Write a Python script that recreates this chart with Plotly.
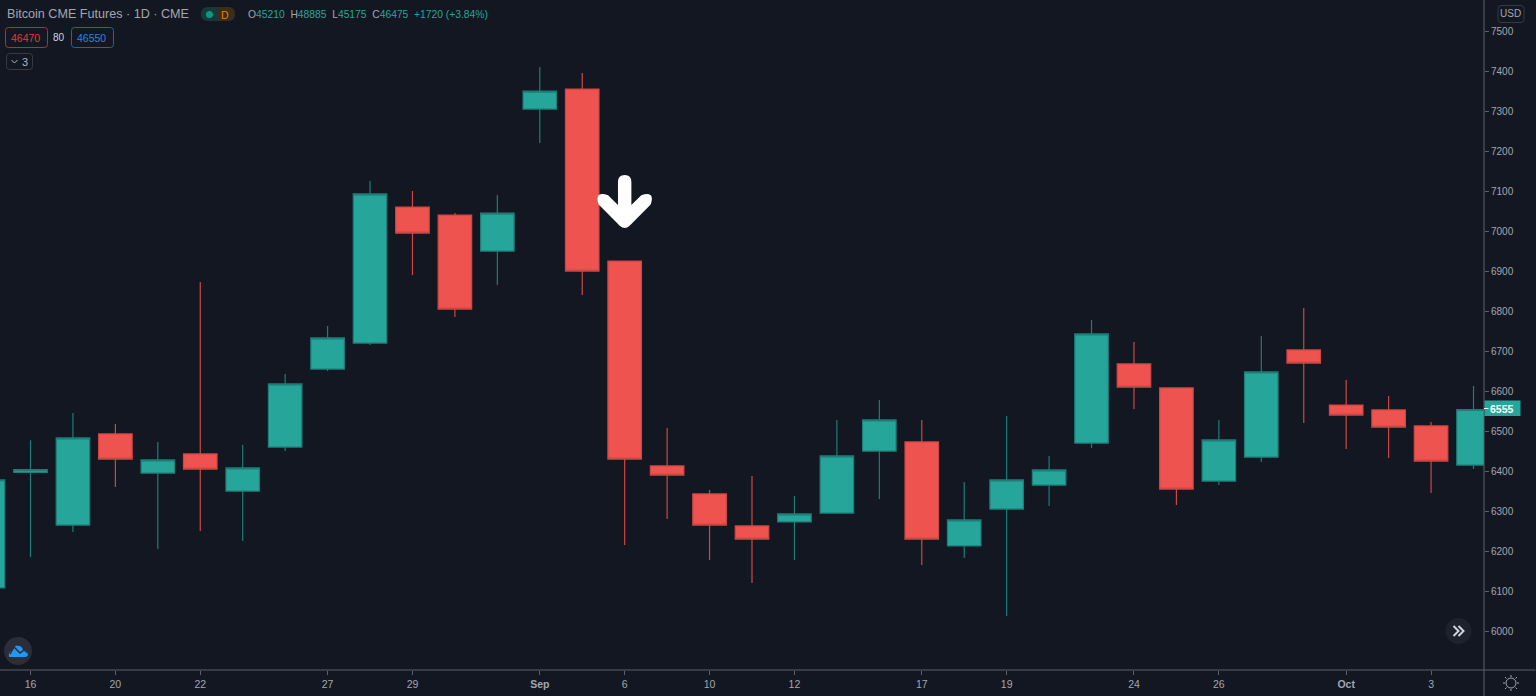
import plotly.graph_objects as go

# Daily candles
dates = ["08-15", "08-16", "08-17", "08-20", "08-21", "08-22", "08-23", "08-24", "08-27",
         "08-28", "08-29", "08-30", "08-31", "09-04", "09-05", "09-06", "09-07", "09-10",
         "09-11", "09-12", "09-13", "09-14", "09-17", "09-18", "09-19", "09-20", "09-21",
         "09-24", "09-25", "09-26", "09-27", "09-28", "10-01", "10-02", "10-03", "10-04"]
opens = [6109, 6398, 6266, 6494, 6396, 6444, 6351, 6461, 6656,
         6721, 7061, 7041, 6951, 7306, 7356, 6926, 6414, 6344,
         6264, 6274, 6296, 6451, 6474, 6214, 6306, 6366, 6471,
         6669, 6609, 6376, 6436, 6704, 6566, 6554, 6514, 6416]
highs = [6400, 6478, 6546, 6519, 6474, 6874, 6466, 6644, 6764,
         7126, 7101, 7046, 7091, 7411, 7396, 6926, 6509, 6354,
         6389, 6339, 6529, 6579, 6529, 6374, 6539, 6439, 6779,
         6724, 6609, 6529, 6739, 6809, 6629, 6589, 6524, 6614]
lows = [6100, 6186, 6249, 6361, 6206, 6251, 6226, 6451, 6651,
        6716, 6891, 6786, 6866, 7221, 6841, 6216, 6281, 6179,
        6121, 6179, 6296, 6331, 6166, 6184, 6039, 6314, 6459,
        6556, 6316, 6366, 6424, 6521, 6456, 6434, 6346, 6406]
closes = [6379, 6405, 6484, 6431, 6429, 6406, 6409, 6619, 6734,
          7094, 6996, 6806, 7046, 7351, 6901, 6431, 6391, 6266,
          6231, 6294, 6439, 6529, 6231, 6279, 6379, 6404, 6744,
          6611, 6356, 6479, 6649, 6671, 6541, 6511, 6426, 6555]

price_ticks = [6000, 6100, 6200, 6300, 6400, 6500, 6600, 6700, 6800, 6900, 7000, 7100, 7200, 7300, 7400, 7500]
date_ticks = ["08-16", "08-20", "08-22", "08-27", "08-29", "09-04", "09-06", "09-10",
              "09-12", "09-17", "09-19", "09-24", "09-26", "10-01", "10-03"]
date_labels = ["16", "20", "22", "27", "29", "<b>Sep</b>", "6", "10", "12", "17", "19", "24", "26", "<b>Oct</b>", "3"]
last_price = 6555

BG = "#131722"
TEAL = "#26a69a"
TEAL_WICK = "#1d7d77"
RED = "#ef5350"
RED_WICK = "#d04644"
GRID = "#5d606b"
TEXT = "#a3a6af"
FONT = "Liberation Sans"

W, H = 1536, 696
PLOT_W, PLOT_H = 1484.5, 670


def px(x):
    return x / PLOT_W


def py(y):
    return 1 - y / PLOT_H


def label(x, y, text, color=TEXT, size=12, anchor="left"):
    return dict(xref="paper", yref="paper", x=px(x), y=py(y), text=text, showarrow=False,
                xanchor=anchor, yanchor="middle", xshift=-1 if anchor == "left" else 0,
                font=dict(color=color, size=size, family=FONT))


def box(x0, y0, x1, y1, line=None, fill=None, kind="rect"):
    return dict(type=kind, xref="paper", yref="paper", x0=px(x0), x1=px(x1), y0=py(y0), y1=py(y1),
                line=dict(color=line or "rgba(0,0,0,0)", width=1), fillcolor=fill or "rgba(0,0,0,0)")


def icon(x, y, path, fill=None, line=None, width=0):
    # path is in pixels, measured from (x, y), y pointing up
    return dict(type="path", xsizemode="pixel", ysizemode="pixel", xref="paper", yref="paper",
                xanchor=px(x), yanchor=py(y), path=path, fillcolor=fill or "rgba(0,0,0,0)",
                line=dict(color=line or "rgba(0,0,0,0)", width=width))


def rounded(x0, y0, x1, y1, r=3, line=None, fill=None, width=1):
    w, h = x1 - x0, y1 - y0
    path = (f"M {r} 0 L {w - r} 0 Q {w} 0 {w} {-r} L {w} {-h + r} Q {w} {-h} {w - r} {-h} "
            f"L {r} {-h} Q 0 {-h} 0 {-h + r} L 0 {-r} Q 0 0 {r} 0 Z")
    return icon(x0, y0, path, fill=fill, line=line, width=width)


fig = go.Figure(go.Candlestick(
    x=dates, open=opens, high=highs, low=lows, close=closes,
    increasing=dict(line=dict(color=TEAL_WICK, width=1.2), fillcolor=TEAL),
    decreasing=dict(line=dict(color=RED_WICK, width=1.2), fillcolor=RED),
    whiskerwidth=0,
))

ohlc = (f'<span style="color:{TEXT}">O</span>45210  <span style="color:{TEXT}">H</span>48885  '
        f'<span style="color:{TEXT}">L</span>45175  <span style="color:{TEXT}">C</span>46475  +1720 (+3.84%)')

annotations = [
    label(6, 14, "Bitcoin CME Futures · 1D · CME", size=12.6),
    label(225.5, 14.5, "D", "#f57c00", 10.5, "center"),
    label(247, 14.5, ohlc, TEAL, 10.3),
    label(26, 37.5, "46470", "#e53935", 10.5, "center"),
    label(59.5, 37.5, "80", "#d1d4dc", 10, "center"),
    label(92, 37.5, "46550", "#1e88e5", 10.5, "center"),
    label(25, 61.5, "3", "#b2b5be", 11, "center"),
    label(1511, 14, "USD", TEXT, 10, "center"),
    label(1502.5, 408.5, f"<b>{last_price}</b>", "#ffffff", 10.5, "center"),
]

arrow_path = ("M -6.7 46 Q -6.7 53 0 53 Q 6.7 53 6.7 46 L 6.7 22.8 L 16.6 32.7 Q 30.7 37.4 26 23.3 "
              "L 4.7 2 Q 0 -2 -4.7 2 L -26 23.3 Q -30.7 37.4 -16.6 32.7 L -6.7 22.8 Z")
cloud_path = "M -9 -6 Q -10 -1 -5 1 Q -3 7 1 5 Q 4 5 5 1 Q 10 1 10 -3 Q 10 -6 7 -6 Z"
ridge_path = "M -8 -3 L -4 4 L 2 -2 L 6 1 L 10 -2"
chevron_path = "M -5 5 L 0 0 L -5 -5 M 0 5 L 5 0 L 0 -5"
caret_path = "M -3 1 L 0 -2 L 3 1"
rays_path = ("M 0 6 L 0 8 M 0 -6 L 0 -8 M 6 0 L 8 0 M -6 0 L -8 0 "
             "M 4.5 4.5 L 6 6 M -4.5 4.5 L -6 6 M 4.5 -4.5 L 6 -6 M -4.5 -4.5 L -6 -6")

shapes = [
    # frame of the price and time scales
    dict(type="line", xref="paper", yref="paper", x0=1, x1=1, y0=py(H), y1=1, line=dict(color=GRID, width=1)),
    dict(type="line", xref="paper", yref="paper", x0=0, x1=px(W), y0=0, y1=0, line=dict(color=GRID, width=1)),
    # header pill
    rounded(201, 7, 235, 21, r=7, fill="#17393a"),
    icon(218, 7, "M 0 0 L 10 0 Q 17 0 17 -7 Q 17 -14 10 -14 L 0 -14 Z", fill="#3a2d1c"),
    box(206, 11, 213, 18, fill="#089981", kind="circle"),
    rounded(5.5, 27.5, 47.5, 47.5, line="#c62828"),
    rounded(71.5, 27.5, 113.5, 47.5, line="#1565c0"),
    rounded(6.5, 53.5, 32.5, 69.5, line="#363a45"),
    icon(14.5, 61, caret_path, line="#b2b5be", width=1),
    rounded(1498.5, 5.5, 1524.5, 22.5, line="#363a45"),
    # last price tag
    box(1485, 400.5, 1521, 416, fill=TEAL),
    dict(type="line", xref="paper", yref="paper", x0=1, x1=px(1489), y0=py(408.5), y1=py(408.5),
         line=dict(color="#ffffff", width=1)),
    # bottom corner buttons
    box(4, 637, 32, 665, fill="#2a2e39", kind="circle"),
    icon(18, 651, cloud_path, fill="#2196f3"),
    icon(18, 651, ridge_path, line="#2a2e39", width=1.5),
    box(1446, 618, 1472, 644, fill="#1e222d", kind="circle"),
    icon(1459, 631, chevron_path, line="#d1d4dc", width=2),
    box(1506.5, 678, 1516.5, 688, line=TEXT, kind="circle"),
    icon(1511.5, 683, rays_path, line=TEXT, width=1),
    # arrow over the Sep 6 candle
    dict(type="path", xsizemode="pixel", ysizemode="pixel", xref="x", yref="y",
         xanchor=dates.index("09-06"), yanchor=7009, path=arrow_path, fillcolor="#ffffff", line=dict(width=0)),
]

fig.update_layout(
    width=W, height=H,
    margin=dict(l=0, r=W - PLOT_W, t=0, b=H - PLOT_H),
    paper_bgcolor=BG, plot_bgcolor=BG,
    showlegend=False,
    boxgap=0.21, boxgroupgap=0,
    font=dict(family=FONT, color=TEXT, size=11),
    annotations=annotations,
    shapes=shapes,
)
fig.update_xaxes(
    type="category", categoryorder="array", categoryarray=dates,
    range=[0.2816, 35.247], rangeslider_visible=False,
    tickmode="array", tickvals=date_ticks, ticktext=date_labels,
    showgrid=False, zeroline=False, ticks="outside", ticklen=4, tickcolor=GRID,
    tickfont=dict(size=10.5, color=TEXT),
)
fig.update_yaxes(
    side="right", range=[5903.75, 7578.75],
    tickmode="array", tickvals=price_ticks,
    showgrid=False, zeroline=False, ticks="outside", ticklen=4, tickcolor=GRID,
    tickfont=dict(size=10, color=TEXT),
)

fig.write_html("out.html", config=dict(displayModeBar=False),
               post_script="document.body.style.margin='0';document.body.style.background='%s';" % BG)
